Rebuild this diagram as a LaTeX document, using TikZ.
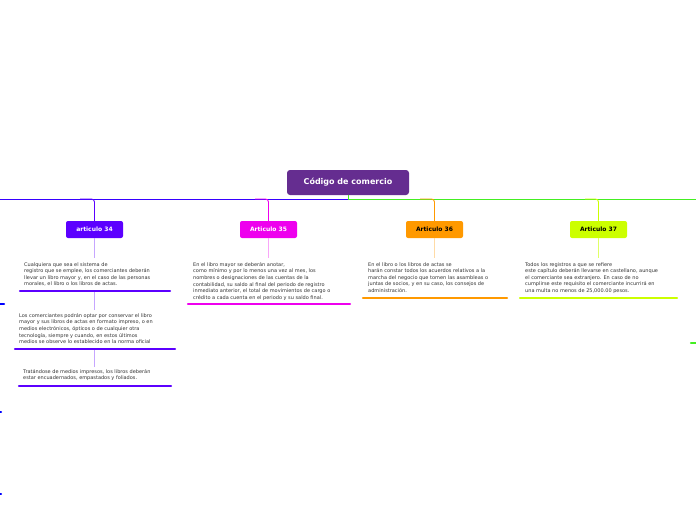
\documentclass[tikz,border=0pt]{standalone}
\usepackage{fontspec}
\setmainfont{DejaVu Sans}
\begin{document}
\begin{tikzpicture}[x=1pt,y=-1pt,
  title/.style={rounded corners=3pt,fill=tcol,text=white,font=\bfseries\fontsize{8}{9}\selectfont,minimum width=122pt,minimum height=25pt,inner sep=0pt},
  branch/.style={rounded corners=2pt,minimum width=57pt,minimum height=17pt,inner sep=0pt,font=\bfseries\fontsize{6}{7}\selectfont},
  body/.style={anchor=north west,align=left,inner sep=0pt,text=black!80,font=\fontsize{5}{6.6}\selectfont},
  uline/.style={line width=2.2pt,line cap=round},
  conn/.style={line width=0.9pt,rounded corners=3pt}]
\definecolor{tcol}{HTML}{652D90}
\definecolor{c34}{HTML}{5C00FF}
\definecolor{c35}{HTML}{EE00EE}
\definecolor{c36}{HTML}{FF9900}
\definecolor{c37}{HTML}{CCFF00}
\definecolor{cg}{HTML}{44EE22}
\useasboundingbox (0,0) rectangle (696,520);
% main horizontal line
\coordinate (L) at (0,199);
\coordinate (R) at (696,199);
\coordinate (M) at (348,199);
\draw[line width=1pt,c34!60!blue] (L) -- (M);
\draw[line width=1pt,cg] (M) -- (R);
\node[title] (T) at (348,182.5) {Código de comercio};
\draw[line width=1pt,cg] (T.south) -- (M);
% branches
\node[branch,fill=c34,text=white] (b34) at (94.5,229.5) {articulo 34};
\node[branch,fill=c35,text=white] (b35) at (268.5,229.5) {Articulo 35};
\node[branch,fill=c36,text=black] (b36) at (434.5,229.5) {Articulo 36};
\node[branch,fill=c37,text=black] (b37) at (598.5,229.5) {Articulo 37};
\draw[conn,c34] (80,199) -- (94.5,199) -- (b34.north);
\draw[conn,c35] (255,199) -- (268.5,199) -- (b35.north);
\draw[conn,c36] (420,199) -- (434.5,199) -- (b36.north);
\draw[conn,c37] (585,199) -- (598.5,199) -- (b37.north);
% texts
\node[body] (t1) at (24,262) {Cualquiera que sea el sistema de\\registro que se emplee, los comerciantes deberán\\llevar un libro mayor y, en el caso de las personas\\morales, el libro o los libros de actas.};
\node[body] (t2) at (19,313) {Los comerciantes podrán optar por conservar el libro\\mayor y sus libros de actas en formato impreso, o en\\medios electrónicos, ópticos o de cualquier otra\\tecnología, siempre y cuando, en estos últimos\\medios se observe lo establecido en la norma oficial};
\node[body] (t3) at (23,369) {Tratándose de medios impresos, los libros deberán\\estar encuadernados, empastados y foliados.};
\node[body] (t4) at (193,262) {En el libro mayor se deberán anotar,\\como mínimo y por lo menos una vez al mes, los\\nombres o designaciones de las cuentas de la\\contabilidad, su saldo al final del periodo de registro\\inmediato anterior, el total de movimientos de cargo o\\crédito a cada cuenta en el periodo y su saldo final.};
\node[body] (t5) at (368,262) {En el libro o los libros de actas se\\harán constar todos los acuerdos relativos a la\\marcha del negocio que tomen las asambleas o\\juntas de socios, y en su caso, los consejos de\\administración.};
\node[body] (t6) at (525,262) {Todos los registros a que se refiere\\este capítulo deberán llevarse en castellano, aunque\\el comerciante sea extranjero. En caso de no\\cumplirse este requisito el comerciante incurrirá en\\una multa no menos de 25,000.00 pesos.};
% underlines
\coordinate (u1a) at (20,291); \coordinate (u1b) at (170,291);
\coordinate (u2a) at (15,349); \coordinate (u2b) at (175,349);
\coordinate (u3a) at (19,386); \coordinate (u3b) at (171,386);
\draw[uline,c34] (u1a) -- (u1b);
\draw[uline,c34] (u2a) -- (u2b);
\draw[uline,c34] (u3a) -- (u3b);
\draw[uline,c35] (188,304) -- (350,304);
\draw[uline,c36] (363,298) -- (507,298);
\draw[uline,c37] (520,298) -- (677,298);
% light connectors
\draw[line width=0.9pt,c34!35] (b34.south) -- (94.5,258);
\draw[line width=0.9pt,c34!35] (94.5,292) -- (94.5,310);
\draw[line width=0.9pt,c34!35] (94.5,350) -- (94.5,367);
\draw[line width=0.9pt,c35!35] (b35.south) -- (268.5,258);
\draw[line width=0.9pt,c36!35] (b36.south) -- (434.5,258);
\draw[line width=0.9pt,c37!60] (b37.south) -- (598.5,258);
% edge fragments
\draw[uline,cg] (691,343) -- (700,343);
\draw[uline,blue] (-5,304) -- (4,304);
\draw[uline,blue] (-5,412) -- (1,412);
\draw[uline,blue] (-5,494) -- (1,494);
\end{tikzpicture}
\end{document}
